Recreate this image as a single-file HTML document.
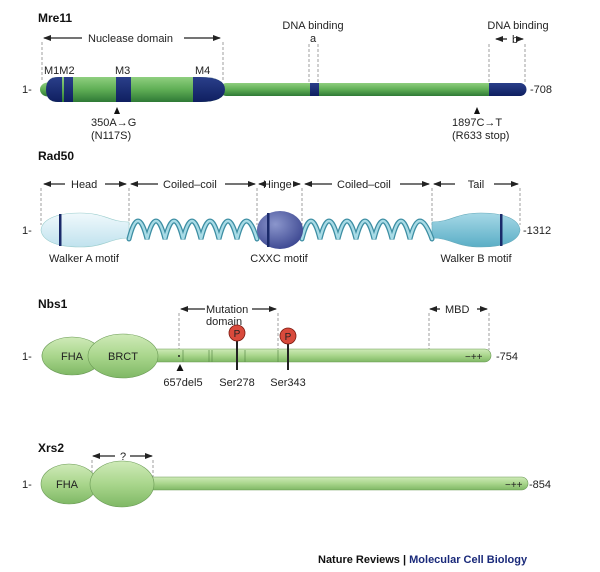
<!DOCTYPE html>
<html><head><meta charset="utf-8"><style>
html,body{margin:0;padding:0;background:#fff}
svg{display:block}
text{font-family:"Liberation Sans",sans-serif;font-size:11px;fill:#222}
.t{font-weight:bold;font-size:12px;fill:#111}
.d{stroke:#888;stroke-width:0.8;stroke-dasharray:3,2;fill:none}
.a{stroke:#222;stroke-width:1.3;fill:none}
</style></head><body>
<svg width="600" height="572" viewBox="0 0 600 572" xmlns="http://www.w3.org/2000/svg">
<defs>
<linearGradient id="g" x1="0" y1="0" x2="0" y2="1"><stop offset="0" stop-color="#8fcf7f"/><stop offset="0.5" stop-color="#5fae55"/><stop offset="1" stop-color="#2f7a36"/></linearGradient>
<linearGradient id="nv" x1="0" y1="0" x2="0" y2="1"><stop offset="0" stop-color="#2a3f8a"/><stop offset="1" stop-color="#0f1f60"/></linearGradient>
<linearGradient id="lg" x1="0" y1="0" x2="0" y2="1"><stop offset="0" stop-color="#cfeab8"/><stop offset="0.5" stop-color="#a9d68c"/><stop offset="1" stop-color="#7fb865"/></linearGradient>
<linearGradient id="lb" x1="0" y1="0" x2="0" y2="1"><stop offset="0" stop-color="#f0f9fc"/><stop offset="1" stop-color="#c0e2ee"/></linearGradient>
<linearGradient id="tb" x1="0" y1="0" x2="0" y2="1"><stop offset="0" stop-color="#a6d8e6"/><stop offset="1" stop-color="#5aaec6"/></linearGradient>
<radialGradient id="hb" cx="0.4" cy="0.35" r="0.7"><stop offset="0" stop-color="#8b96cc"/><stop offset="1" stop-color="#3b4690"/></radialGradient>
<marker id="ah" markerWidth="8" markerHeight="6" refX="7" refY="3" orient="auto-start-reverse" markerUnits="userSpaceOnUse"><path d="M0,0 L8,3 L0,6 z" fill="#222"/></marker>
</defs>

<!-- Mre11 -->
<text x="38" y="22" class="t">Mre11</text>
<line x1="44" y1="38" x2="82" y2="38" class="a" marker-start="url(#ah)"/>
<text x="88" y="42">Nuclease domain</text>
<line x1="184" y1="38" x2="220" y2="38" class="a" marker-end="url(#ah)"/>
<line x1="42" y1="42" x2="42" y2="80" class="d"/>
<line x1="223" y1="42" x2="223" y2="80" class="d"/>
<text x="313" y="29" text-anchor="middle">DNA binding</text>
<text x="313" y="42" text-anchor="middle">a</text>
<line x1="309" y1="44" x2="309" y2="84" class="d"/>
<line x1="318" y1="44" x2="318" y2="84" class="d"/>
<text x="518" y="29" text-anchor="middle">DNA binding</text>
<line x1="496" y1="39" x2="507" y2="39" class="a" marker-start="url(#ah)"/>
<text x="515" y="43" text-anchor="middle">b</text>
<line x1="522" y1="39" x2="523" y2="39" class="a" marker-end="url(#ah)"/>
<line x1="489" y1="44" x2="489" y2="84" class="d"/>
<line x1="525" y1="44" x2="525" y2="84" class="d"/>
<text x="44" y="74">M1M2</text>
<text x="115" y="74">M3</text>
<text x="195" y="74">M4</text>
<text x="22" y="93">1-</text>
<g transform="translate(0,-14)">
<rect x="220" y="97" width="306" height="13" rx="6.5" fill="url(#g)"/>
<rect x="310" y="97" width="9" height="13" fill="url(#nv)"/>
<path d="M489,97 H520 a6.5,6.5 0 0 1 0,13 H489 z" fill="url(#nv)"/>
<ellipse cx="48" cy="103.5" rx="8" ry="7" fill="url(#g)"/>
<path d="M58,91 H200 Q225,91 225,103.5 Q225,116 200,116 H58 Q46,116 46,103.5 Q46,91 58,91 z" fill="url(#g)"/>
<path d="M58,91 H62 V116 H58 Q46,116 46,103.5 Q46,91 58,91 z" fill="url(#nv)"/>
<rect x="64" y="91" width="9" height="25" fill="url(#nv)"/>
<rect x="116" y="91" width="15" height="25" fill="url(#nv)"/>
<path d="M193,91 H200 Q225,91 225,103.5 Q225,116 200,116 H193 z" fill="url(#nv)"/>
</g>
<text x="530" y="93">-708</text>
<path d="M117,107 l-3,7 h6 z" fill="#111"/>
<text x="91" y="126">350A→G</text>
<text x="91" y="139">(N117S)</text>
<path d="M477,107 l-3,7 h6 z" fill="#111"/>
<text x="452" y="126">1897C→T</text>
<text x="452" y="139">(R633 stop)</text>

<!-- Rad50 -->
<text x="38" y="160" class="t">Rad50</text>
<line x1="44" y1="184" x2="65" y2="184" class="a" marker-start="url(#ah)"/>
<text x="71" y="188">Head</text>
<line x1="105" y1="184" x2="126" y2="184" class="a" marker-end="url(#ah)"/>
<line x1="131" y1="184" x2="158" y2="184" class="a" marker-start="url(#ah)"/>
<text x="163" y="188">Coiled–coil</text>
<line x1="225" y1="184" x2="255" y2="184" class="a" marker-end="url(#ah)"/>
<line x1="259" y1="184" x2="262" y2="184" class="a" marker-start="url(#ah)"/>
<text x="263" y="188">Hinge</text>
<line x1="294" y1="184" x2="300" y2="184" class="a" marker-end="url(#ah)"/>
<line x1="305" y1="184" x2="332" y2="184" class="a" marker-start="url(#ah)"/>
<text x="337" y="188">Coiled–coil</text>
<line x1="400" y1="184" x2="429" y2="184" class="a" marker-end="url(#ah)"/>
<line x1="434" y1="184" x2="455" y2="184" class="a" marker-start="url(#ah)"/>
<text x="476" y="188" text-anchor="middle">Tail</text>
<line x1="494" y1="184" x2="518" y2="184" class="a" marker-end="url(#ah)"/>
<g class="d"><line x1="41" y1="188" x2="41" y2="225"/><line x1="129" y1="188" x2="129" y2="225"/><line x1="257" y1="188" x2="257" y2="225"/><line x1="302" y1="188" x2="302" y2="225"/><line x1="432" y1="188" x2="432" y2="225"/><line x1="520" y1="188" x2="520" y2="225"/></g>
<text x="22" y="234">1-</text>
<path d="M129,222 V238 C110,238 105,247 80,247 C55,247 42,240 41,230 C42,220 55,213 80,213 C105,213 110,222 129,222 z" fill="url(#lb)" stroke="#9cc" stroke-width="0.6"/>
<rect x="59" y="214" width="2.5" height="32" fill="#1a2a6a"/>
<path d="M432,222 V238 C451,238 456,247 481,247 C506,247 519,240 520,230 C519,220 506,213 481,213 C456,213 451,222 432,222 z" fill="url(#tb)" stroke="#6ab" stroke-width="0.6"/>
<rect x="500" y="214" width="2.5" height="32" fill="#1a2a6a"/>
<g fill="none" stroke-linecap="round">
<path d="M129,239 Q138,203 147,239 Q156,203 165,239 Q174,203 183,239 Q192,203 201,239 Q210,203 219,239 Q228,203 237,239 Q246,203 257,239" stroke="#3d8ea3" stroke-width="5"/>
<path d="M129,239 Q138,203 147,239 Q156,203 165,239 Q174,203 183,239 Q192,203 201,239 Q210,203 219,239 Q228,203 237,239 Q246,203 257,239" stroke="#a8dbe6" stroke-width="2.5"/>
<path d="M302,239 Q311,203 320,239 Q329,203 338,239 Q347,203 356,239 Q365,203 374,239 Q383,203 392,239 Q401,203 410,239 Q419,203 432,239" stroke="#3d8ea3" stroke-width="5"/>
<path d="M302,239 Q311,203 320,239 Q329,203 338,239 Q347,203 356,239 Q365,203 374,239 Q383,203 392,239 Q401,203 410,239 Q419,203 432,239" stroke="#a8dbe6" stroke-width="2.5"/>
</g>
<ellipse cx="280" cy="230" rx="23" ry="19" fill="url(#hb)"/>
<rect x="267" y="213" width="2.5" height="34" fill="#1a2a6a"/>
<text x="523" y="234">-1312</text>
<text x="84" y="262" text-anchor="middle">Walker A motif</text>
<text x="279" y="262" text-anchor="middle">CXXC motif</text>
<text x="476" y="262" text-anchor="middle">Walker B motif</text>

<!-- Nbs1 -->
<text x="38" y="308" class="t">Nbs1</text>
<line x1="181" y1="309" x2="205" y2="309" class="a" marker-start="url(#ah)"/>
<text x="206" y="313">Mutation</text>
<line x1="252" y1="309" x2="276" y2="309" class="a" marker-end="url(#ah)"/>
<text x="206" y="325">domain</text>
<line x1="430" y1="309" x2="440" y2="309" class="a" marker-start="url(#ah)"/>
<text x="445" y="313">MBD</text>
<line x1="477" y1="309" x2="487" y2="309" class="a" marker-end="url(#ah)"/>
<g class="d"><line x1="179" y1="313" x2="179" y2="350"/><line x1="278" y1="313" x2="278" y2="350"/><line x1="429" y1="313" x2="429" y2="350"/><line x1="489" y1="313" x2="489" y2="350"/></g>
<text x="22" y="360">1-</text>
<rect x="42" y="349" width="449" height="13" rx="6.5" fill="url(#lg)" stroke="#6a9a55" stroke-width="0.6"/>
<ellipse cx="72" cy="356" rx="30" ry="19" fill="url(#lg)" stroke="#6a9a55" stroke-width="0.6"/>
<ellipse cx="123" cy="356" rx="35" ry="22" fill="url(#lg)" stroke="#6a9a55" stroke-width="0.6"/>
<text x="72" y="360" text-anchor="middle">FHA</text>
<text x="123" y="360" text-anchor="middle">BRCT</text>
<g stroke="#5a8a48" stroke-width="0.7"><line x1="183" y1="350" x2="183" y2="362"/><line x1="209" y1="350" x2="209" y2="362"/><line x1="212" y1="350" x2="212" y2="362"/><line x1="245" y1="350" x2="245" y2="362"/><line x1="278" y1="350" x2="278" y2="362"/></g>
<circle cx="179" cy="356" r="1" fill="#222"/>
<path d="M180,364 l-3.5,7 h7 z" fill="#111"/>
<line x1="237" y1="338" x2="237" y2="370" stroke="#222" stroke-width="2"/>
<circle cx="237" cy="333" r="8" fill="#d94a3c" stroke="#7a1a10" stroke-width="0.8"/>
<text x="237" y="337" text-anchor="middle" style="font-size:10px">P</text>
<line x1="288" y1="341" x2="288" y2="370" stroke="#222" stroke-width="2"/>
<circle cx="288" cy="336" r="8" fill="#d94a3c" stroke="#7a1a10" stroke-width="0.8"/>
<text x="288" y="340" text-anchor="middle" style="font-size:10px">P</text>
<text x="465" y="360" style="font-size:10px">−++</text>
<text x="496" y="360">-754</text>
<text x="183" y="386" text-anchor="middle">657del5</text>
<text x="237" y="386" text-anchor="middle">Ser278</text>
<text x="288" y="386" text-anchor="middle">Ser343</text>

<!-- Xrs2 -->
<text x="38" y="452" class="t">Xrs2</text>
<line x1="93" y1="456" x2="115" y2="456" class="a" marker-start="url(#ah)"/>
<text x="123" y="460" text-anchor="middle">?</text>
<line x1="130" y1="456" x2="152" y2="456" class="a" marker-end="url(#ah)"/>
<g class="d"><line x1="92" y1="460" x2="92" y2="480"/><line x1="153" y1="460" x2="153" y2="480"/></g>
<text x="22" y="488">1-</text>
<rect x="42" y="477" width="486" height="13" rx="6.5" fill="url(#lg)" stroke="#6a9a55" stroke-width="0.6"/>
<ellipse cx="69" cy="484" rx="28" ry="20" fill="url(#lg)" stroke="#6a9a55" stroke-width="0.6"/>
<ellipse cx="122" cy="484" rx="32" ry="23" fill="url(#lg)" stroke="#6a9a55" stroke-width="0.6"/>
<text x="67" y="488" text-anchor="middle">FHA</text>
<text x="505" y="488" style="font-size:10px">−++</text>
<text x="529" y="488">-854</text>

<text x="318" y="563" style="font-weight:bold;font-size:11px;fill:#111">Nature Reviews | <tspan style="fill:#1a2a7a">Molecular Cell Biology</tspan></text>
</svg>
</body></html>
